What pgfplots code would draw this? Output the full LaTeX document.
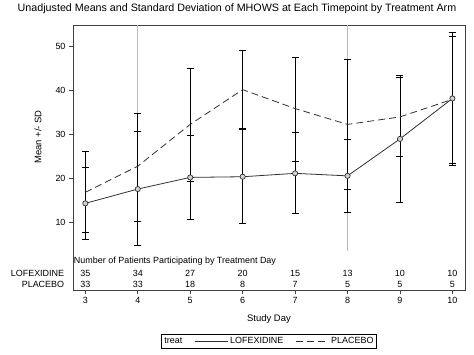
\documentclass[border=0pt]{standalone}
\usepackage{pgfplots}
\usepackage{pgfplotstable}
\pgfplotsset{compat=1.18}
\usepackage{fontspec}
\setmainfont{Liberation Sans}
\definecolor{fr}{HTML}{404040}
\definecolor{ln}{HTML}{303030}
\pgfplotstableread{
x y lo hi
3 14.25 6.1 22.5
4 17.5 4.6 30.7
5 20.15 10.7 29.7
6 20.3 9.7 31.0
7 21.07 12.05 30.3
8 20.5 12.1 28.8
9 28.9 14.4 43.25
10 38.1 23.0 53.2
}\lofex
\pgfplotstableread{
x y lo hi
3 16.75 7.6 26.0
4 22.7 10.15 34.7
5 32.2 19.25 44.9
6 40.1 31.2 49.0
7 35.8 23.9 47.4
8 32.2 17.4 47.0
9 33.9 24.85 42.95
10 37.9 23.3 52.3
}\placebo
\begin{document}
\begin{tikzpicture}
\useasboundingbox (-73bp,-65bp) rectangle (401bp,290bp);
\begin{axis}[
  at={(0,0)}, anchor=south west,
  scale only axis, width=392bp, height=265bp,
  xmin=2.765, xmax=10.24, ymin=-5.45, ymax=54.8,
  xtick={3,4,5,6,7,8,9,10}, ytick={10,20,30,40,50},
  tick pos=left, tick align=outside, major tick length=4bp,
  axis line style={fr, line width=0.9bp},
  every tick/.style={fr, line width=0.8bp},
  tick label style={font=\fontsize{9}{10}\selectfont},
  /pgf/number format/assume math mode=true,
  clip=false,
  xlabel={Study Day},
  xlabel style={font=\fontsize{9.5}{11}\selectfont, at={(axis description cs:0.5,0)}, anchor=center, yshift=-29bp},
  ylabel={Mean +/- SD},
  ylabel style={font=\fontsize{9.5}{11}\selectfont, at={(axis description cs:0,0.577)}, anchor=center, yshift=35bp},
  title={Unadjusted Means and Standard Deviation of MHOWS at Each Timepoint by Treatment Arm},
  title style={font=\fontsize{10.75}{12}\selectfont, at={(axis description cs:0.5,1)}, anchor=center, xshift=-32bp, yshift=10bp},
  legend columns=-1,
  legend style={at={(axis description cs:0.5,0)}, anchor=north, yshift=-44bp, draw=black, line width=0.8bp,
    font=\fontsize{9}{10}\selectfont, inner sep=1bp, row sep=0pt,
    /tikz/every even column/.append style={column sep=10bp}},
  legend image code/.code={\draw[#1, line width=0.8bp] (0bp,0bp) -- (33bp,0bp);},
]
\addlegendimage{empty legend}
\addlegendentry{treat}
% gray vertical lines
\addplot[forget plot, gray!55, line width=1bp] coordinates {(4,54.8) (4,4.6)};
\addplot[forget plot, gray!55, line width=1bp] coordinates {(8,54.8) (8,3.5)};
% error bars
\addplot[forget plot, draw=none, mark=none, error bars/.cd, y dir=both, y explicit, error mark=-,
  error bar style={black, line width=0.7bp}, error mark options={black, line width=0.7bp, mark size=3.5bp, rotate=90}]
  table[x=x, y=y, y error plus expr=\thisrow{hi}-\thisrow{y}, y error minus expr=\thisrow{y}-\thisrow{lo}] {\lofex};
\addplot[forget plot, draw=none, mark=none, error bars/.cd, y dir=both, y explicit, error mark=-,
  error bar style={black, line width=0.7bp}, error mark options={black, line width=0.7bp, mark size=3.5bp, rotate=90}]
  table[x=x, y=y, y error plus expr=\thisrow{hi}-\thisrow{y}, y error minus expr=\thisrow{y}-\thisrow{lo}] {\placebo};
% lines
\addplot[ln, line width=0.8bp, mark=none] table[x=x, y=y] {\lofex};
\addlegendentry{LOFEXIDINE}
\addplot[ln, line width=0.8bp, dash pattern=on 7bp off 4bp, mark=none] table[x=x, y=y] {\placebo};
\addlegendentry{PLACEBO}
\addplot[forget plot, only marks, mark=*, mark size=2.6bp, mark options={solid, draw=ln, line width=0.7bp, fill=gray!35}] table[x=x, y=y] {\lofex};
% patient count table
\addplot[forget plot, draw=none, mark=none, nodes near coords, point meta=explicit symbolic,
  every node near coord/.append style={anchor=center, font=\fontsize{9}{10}\selectfont, inner sep=0pt}]
  coordinates {(3,-1.75)[35] (4,-1.75)[34] (5,-1.75)[27] (6,-1.75)[20] (7,-1.75)[15] (8,-1.75)[13] (9,-1.75)[10] (10,-1.75)[10]};
\addplot[forget plot, draw=none, mark=none, nodes near coords, point meta=explicit symbolic,
  every node near coord/.append style={anchor=center, font=\fontsize{9}{10}\selectfont, inner sep=0pt}]
  coordinates {(3,-4.16)[33] (4,-4.16)[33] (5,-4.16)[18] (6,-4.16)[8] (7,-4.16)[7] (8,-4.16)[5] (9,-4.16)[5] (10,-4.16)[5]};
\node[anchor=west, inner sep=0pt, font=\fontsize{9}{10}\selectfont] at (axis cs:2.78,1.2) {Number of Patients Participating by Treatment Day};
\node[anchor=east, inner sep=0pt, font=\fontsize{9}{10}\selectfont] at (axis cs:2.6,-1.75) {LOFEXIDINE};
\node[anchor=east, inner sep=0pt, font=\fontsize{9}{10}\selectfont] at (axis cs:2.6,-4.16) {PLACEBO};
\end{axis}
\end{tikzpicture}
\end{document}
